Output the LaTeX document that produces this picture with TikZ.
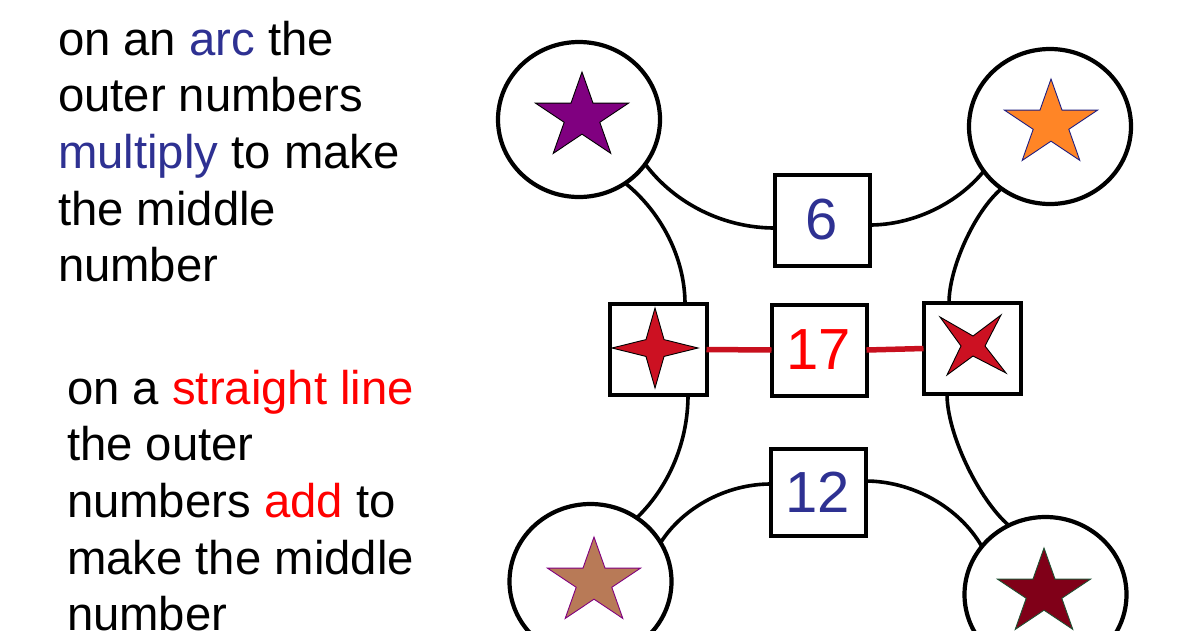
\documentclass[tikz,border=0pt]{standalone}
\usepackage{fontspec}
\setmainfont{Liberation Sans}
\usetikzlibrary{shapes.geometric}
\definecolor{txtblue}{RGB}{46,49,146}
\definecolor{txtred}{RGB}{255,0,0}
\definecolor{linered}{RGB}{200,16,30}
\definecolor{starred}{RGB}{204,17,34}
\definecolor{spurple}{RGB}{128,0,128}
\definecolor{sorange}{RGB}{255,133,38}
\definecolor{sorangeline}{RGB}{30,30,130}
\definecolor{sbrown}{RGB}{184,122,87}
\definecolor{sdark}{RGB}{128,0,24}
\definecolor{sgreen}{RGB}{30,80,50}
\tikzset{
  fivestar/.pic={\path[pic actions] (270:1) -- (306:0.382) -- (342:1) -- (18:0.382) -- (54:1) -- (90:0.382) -- (126:1) -- (162:0.382) -- (198:1) -- (234:0.382) -- cycle;},
  fourstar/.pic={\path[pic actions] (0,-1) -- (0.21,-0.21) -- (1,0) -- (0.21,0.21) -- (0,1) -- (-0.21,0.21) -- (-1,0) -- (-0.21,-0.21) -- cycle;},
  xstar/.pic={\path[pic actions] (-33,-29) -- (0,-10) -- (28,-31) -- (12,0) -- (33,27) -- (0,10) -- (-26,29) -- (-12,0) -- cycle;},
}
\begin{document}
\begin{tikzpicture}[x=1pt,y=-1pt,
  ring/.style={ellipse, draw, line width=4.2pt, minimum width=162pt, minimum height=155pt, inner sep=0pt, outer sep=0pt},
  numbox/.style={draw, line width=4pt, fill=white, minimum width=95pt, minimum height=91pt, inner sep=0pt, outer sep=0pt, font=\fontsize{58}{60}\selectfont},
  arcline/.style={line width=3.6pt},
  redline/.style={line width=5.5pt, draw=linered},
  txt/.style={anchor=base west, inner sep=0pt, outer sep=0pt, font=\fontsize{47.3}{56}\selectfont},
  starline/.style={line width=0.9pt},
]
\fill[white] (0,0) rectangle (1200,630);
\useasboundingbox (0,0) rectangle (1200,630);

% text
\node[txt] (t1) at (58,55) {on an \textcolor{txtblue}{arc} the};
\node[txt] (t2) at (58,111.7) {outer numbers};
\node[txt] (t3) at (58,168.4) {\textcolor{txtblue}{multiply} to make};
\node[txt] (t4) at (58,225.1) {the middle};
\node[txt] (t5) at (58,281.8) {number};
\node[txt] (u1) at (67,404) {on a \textcolor{txtred}{straight line}};
\node[txt] (u2) at (67,460.7) {the outer};
\node[txt] (u3) at (67,517.4) {numbers \textcolor{txtred}{add} to};
\node[txt] (u4) at (67,574.1) {make the middle};
\node[txt] (u5) at (67,630.8) {number};

% rings
\node[ring] (c1) at (579,119.5) {};
\node[ring] (c2) at (1050,126.5) {};
\node[ring] (c3) at (590.5,581.5) {};
\node[ring] (c4) at (1045.5,594.5) {};

% boxes
\node[numbox, text=txtblue] (b6) at (822,220) {6};
\node[numbox, text=txtred] (b17) at (819,350) {17};
\node[numbox, minimum width=97pt] (bL) at (658,349.5) {};
\node[numbox, minimum width=97pt] (bR) at (972,348.5) {};
\node[numbox, text=txtblue, minimum height=87pt] (b12) at (818,492) {12};

% red straight line
\draw[redline] (bL.east) -- (b17.west);
\draw[redline] (b17.east) -- (bR.west);

% arcs
\draw[arcline] (c1.-34) .. controls +(30,40) and +(-50,0) .. ([yshift=-8pt]b6.west);
\draw[arcline] ([yshift=-5pt]b6.east) .. controls +(43,0) and +(-27,33) .. (c2.214);
\draw[arcline] (c1.-54) .. controls +(36,29) and +(0,-46) .. ([xshift=27pt]bL.north);
\draw[arcline] ([xshift=30pt]bL.south) .. controls +(0,46) and +(33,-32) .. (c3.54);
\draw[arcline] ([yshift=8pt]b12.west) .. controls +(-43,0) and +(23,-36) .. (c3.29);
\draw[arcline] ([yshift=11pt]b12.east) .. controls +(46,0) and +(-23,-40) .. (c4.143);
\draw[arcline] ([xshift=-25pt]bR.south) .. controls +(0,40) and +(-30,-26) .. (c4.118);
\draw[arcline] (c2.-128) .. controls +(-27,23) and +(0,-35) .. ([xshift=-23pt]bR.north);

% stars
\begin{scope}[shift={(582,117)}]
  \pic[xscale=49, yscale=45, fill=spurple, draw=black, starline] {fivestar};
\end{scope}
\begin{scope}[shift={(1051,124)}]
  \pic[xscale=49, yscale=45, fill=sorange, draw=sorangeline, starline] {fivestar};
\end{scope}
\begin{scope}[shift={(594,582)}]
  \pic[xscale=49, yscale=45, fill=sbrown, draw=spurple, starline] {fivestar};
\end{scope}
\begin{scope}[shift={(1044,593)}]
  \pic[xscale=49, yscale=45, fill=sdark, draw=sgreen, starline] {fivestar};
\end{scope}
\begin{scope}[shift={(655,348)}]
  \pic[xscale=43, yscale=40, fill=starred, draw=black, starline] {fourstar};
\end{scope}
\begin{scope}[shift={(973,346)}]
  \pic[fill=starred, draw=black, starline] {xstar};
\end{scope}
\end{tikzpicture}
\end{document}
